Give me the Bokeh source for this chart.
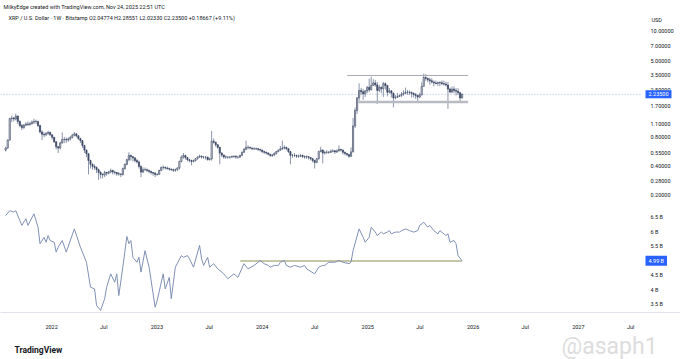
from datetime import datetime, timedelta
from bokeh.plotting import figure
from bokeh.models import Range1d, FixedTicker, CustomJSTickFormatter, Label
from bokeh.core.properties import value
from bokeh.layouts import column
from bokeh.embed import file_html
from bokeh.resources import INLINE

# ---------------- data ----------------
first_week = datetime(2021, 7, 26)
first_open = 0.59
closes = [0.62, 0.75, 1.25, 1.27, 1.24, 1.33, 1.17, 1.06, 1.01, 1.07,
          1.10, 1.09, 1.11, 1.15, 1.17, 1.17, 1.06, 0.91, 0.86, 0.85,
          0.88, 0.90, 0.85, 0.80, 0.72, 0.64, 0.62, 0.70, 0.76, 0.76,
          0.75, 0.77, 0.80, 0.84, 0.87, 0.83, 0.78, 0.74, 0.66, 0.59,
          0.54, 0.46, 0.42, 0.40, 0.39, 0.37, 0.346, 0.33, 0.326, 0.347,
          0.34, 0.35, 0.363, 0.35, 0.346, 0.335, 0.333, 0.33, 0.38, 0.42,
          0.47, 0.52, 0.505, 0.49, 0.46, 0.445, 0.40, 0.35, 0.37, 0.37,
          0.363, 0.355, 0.346, 0.34, 0.33, 0.33, 0.363, 0.39, 0.39, 0.385,
          0.38, 0.375, 0.37, 0.365, 0.37, 0.385, 0.45, 0.50, 0.52, 0.495,
          0.47, 0.46, 0.45, 0.46, 0.48, 0.50, 0.51, 0.50, 0.50, 0.50,
          0.47, 0.48, 0.73, 0.71, 0.67, 0.63, 0.55, 0.525, 0.50, 0.50,
          0.50, 0.50, 0.505, 0.51, 0.50, 0.50, 0.52, 0.56, 0.60, 0.63,
          0.63, 0.62, 0.61, 0.61, 0.61, 0.60, 0.59, 0.57, 0.56, 0.55,
          0.535, 0.52, 0.525, 0.545, 0.57, 0.59, 0.61, 0.62, 0.63, 0.61,
          0.57, 0.52, 0.52, 0.52, 0.51, 0.51, 0.52, 0.505, 0.50, 0.505,
          0.495, 0.48, 0.46, 0.44, 0.48, 0.57, 0.59, 0.55, 0.56, 0.56,
          0.56, 0.575, 0.58, 0.565, 0.58, 0.60, 0.59, 0.56, 0.545, 0.53,
          0.51, 0.565, 1.05, 1.52, 2.05, 2.45, 2.37, 2.26, 2.42, 2.64,
          2.49, 2.76, 2.93, 2.80, 2.45, 2.64, 2.55, 2.88, 2.76, 2.35,
          2.43, 2.30, 2.05, 2.08, 2.12, 2.18, 2.24, 2.30, 2.35, 2.35,
          2.32, 2.28, 2.22, 2.17, 2.09, 2.20, 2.70, 3.33, 3.26, 3.16,
          3.08, 2.99, 2.93, 2.89, 2.96, 2.94, 2.88, 2.85, 2.79, 2.53,
          2.36, 2.53, 2.45, 2.40, 2.32, 2.04774, 2.235]
highs = [0.64, 0.76, 1.28, 1.35, 1.30, 1.41, 1.35, 1.20, 1.10, 1.10,
         1.15, 1.17, 1.16, 1.20, 1.25, 1.22, 1.19, 1.08, 0.95, 0.90,
         0.91, 0.94, 0.92, 0.86, 0.81, 0.73, 0.65, 0.72, 0.90, 0.81,
         0.80, 0.80, 0.83, 0.87, 0.91, 0.88, 0.84, 0.79, 0.75, 0.67,
         0.60, 0.55, 0.47, 0.43, 0.42, 0.40, 0.38, 0.36, 0.34, 0.36,
         0.35, 0.36, 0.38, 0.37, 0.36, 0.35, 0.35, 0.34, 0.39, 0.43,
         0.48, 0.56, 0.53, 0.51, 0.50, 0.48, 0.46, 0.41, 0.39, 0.39,
         0.38, 0.37, 0.36, 0.35, 0.35, 0.34, 0.37, 0.40, 0.41, 0.40,
         0.40, 0.39, 0.38, 0.38, 0.38, 0.39, 0.46, 0.52, 0.55, 0.53,
         0.50, 0.48, 0.47, 0.47, 0.49, 0.51, 0.53, 0.52, 0.51, 0.51,
         0.50, 0.49, 0.93, 0.78, 0.72, 0.68, 0.64, 0.56, 0.53, 0.52,
         0.51, 0.51, 0.52, 0.52, 0.52, 0.51, 0.53, 0.57, 0.62, 0.74,
         0.66, 0.64, 0.63, 0.63, 0.63, 0.62, 0.61, 0.60, 0.58, 0.57,
         0.56, 0.54, 0.54, 0.56, 0.58, 0.60, 0.65, 0.74, 0.66, 0.64,
         0.62, 0.58, 0.54, 0.55, 0.53, 0.53, 0.54, 0.53, 0.52, 0.52,
         0.51, 0.50, 0.49, 0.47, 0.49, 0.58, 0.64, 0.60, 0.58, 0.59,
         0.58, 0.60, 0.60, 0.59, 0.60, 0.66, 0.61, 0.60, 0.57, 0.55,
         0.54, 0.63, 1.27, 1.63, 2.10, 2.90, 2.60, 2.55, 2.48, 2.72,
         3.25, 3.40, 3.20, 3.15, 3.00, 2.80, 2.70, 3.00, 2.97, 2.80,
         2.59, 2.45, 2.32, 2.20, 2.30, 2.23, 2.35, 2.47, 2.62, 2.48,
         2.45, 2.40, 2.35, 2.30, 2.22, 2.32, 2.98, 3.66, 3.62, 3.35,
         3.33, 3.28, 3.12, 3.10, 3.03, 3.05, 3.11, 3.10, 3.02, 3.00,
         2.62, 2.69, 2.70, 2.59, 2.58, 2.36, 2.28551]
lows = [0.57, 0.61, 0.74, 1.15, 1.17, 1.20, 1.10, 1.02, 0.95, 0.98,
        1.04, 1.05, 1.05, 1.08, 1.10, 1.10, 1.02, 0.88, 0.75, 0.80,
        0.82, 0.85, 0.83, 0.76, 0.70, 0.60, 0.55, 0.60, 0.69, 0.70,
        0.70, 0.72, 0.74, 0.78, 0.82, 0.80, 0.75, 0.70, 0.62, 0.55,
        0.50, 0.33, 0.38, 0.37, 0.37, 0.34, 0.29, 0.30, 0.30, 0.31,
        0.32, 0.33, 0.34, 0.33, 0.33, 0.32, 0.32, 0.31, 0.32, 0.37,
        0.41, 0.45, 0.46, 0.45, 0.44, 0.43, 0.38, 0.31, 0.34, 0.36,
        0.35, 0.34, 0.33, 0.32, 0.31, 0.32, 0.33, 0.36, 0.37, 0.37,
        0.37, 0.36, 0.36, 0.35, 0.35, 0.36, 0.37, 0.44, 0.48, 0.47,
        0.45, 0.44, 0.41, 0.44, 0.45, 0.47, 0.49, 0.48, 0.48, 0.47,
        0.46, 0.46, 0.46, 0.69, 0.64, 0.61, 0.42, 0.50, 0.48, 0.48,
        0.48, 0.48, 0.49, 0.49, 0.48, 0.48, 0.49, 0.51, 0.55, 0.59,
        0.60, 0.60, 0.59, 0.59, 0.59, 0.58, 0.57, 0.55, 0.54, 0.53,
        0.52, 0.50, 0.50, 0.51, 0.53, 0.56, 0.58, 0.59, 0.60, 0.59,
        0.55, 0.42, 0.49, 0.50, 0.49, 0.49, 0.50, 0.49, 0.48, 0.48,
        0.47, 0.46, 0.44, 0.38, 0.43, 0.47, 0.56, 0.43, 0.53, 0.54,
        0.54, 0.55, 0.56, 0.54, 0.55, 0.57, 0.57, 0.53, 0.52, 0.51,
        0.49, 0.50, 0.56, 1.00, 1.40, 1.92, 2.20, 1.96, 2.10, 2.30,
        2.35, 2.45, 2.75, 2.68, 1.77, 2.35, 2.30, 2.10, 2.50, 2.13,
        2.28, 2.07, 1.64, 1.98, 2.05, 2.10, 2.10, 2.16, 2.25, 2.20,
        2.20, 2.07, 2.07, 2.00, 1.91, 2.05, 2.18, 2.70, 3.08, 2.98,
        2.80, 2.90, 2.70, 2.83, 2.72, 2.70, 2.78, 2.74, 2.69, 1.58,
        2.30, 2.30, 2.30, 2.17, 2.20, 1.82, 2.0233]

# lower pane series (billions), read at candle-week indices
line_week = [0, 2, 4, 5, 7, 8, 10, 11, 14, 16,
             17, 19, 20, 21, 22, 24, 25, 26, 28, 30,
             34, 37, 40, 42, 44, 45, 47, 49, 50, 52,
             54, 55, 56, 58, 60, 61, 62, 63, 65, 66,
             67, 69, 71, 73, 74, 75, 78, 79, 81, 82,
             84, 87, 88, 90, 91, 93, 96, 97, 98, 100,
             101, 103, 105, 106, 108, 110, 113, 115, 118, 120,
             123, 125, 126, 128, 130, 131, 133, 135, 136, 138,
             139, 141, 143, 146, 148, 149, 153, 155, 157, 158,
             160, 163, 165, 167, 170, 171, 172, 175, 177, 178,
             180, 181, 183, 184, 186, 187, 189, 190, 191, 193,
             195, 196, 198, 200, 202, 204, 205, 207, 209, 210,
             212, 214, 215, 217, 218, 219, 220, 222, 223, 224, 226]
line_val = [6.55, 6.72, 6.67, 6.72, 6.38, 6.21, 6.44, 6.21, 6.61, 6.15,
            5.58, 5.80, 5.63, 5.86, 5.69, 5.63, 5.29, 5.46, 5.69, 5.29,
            6.09, 5.46, 4.94, 4.08, 4.02, 3.45, 3.28, 3.68, 4.08, 4.54,
            4.25, 4.54, 3.79, 4.77, 5.83, 5.58, 5.69, 5.11, 4.94, 5.11,
            4.60, 5.34, 4.77, 3.85, 3.39, 3.62, 4.54, 4.02, 4.42, 3.68,
            4.77, 5.17, 5.11, 5.17, 5.06, 4.77, 5.52, 5.06, 4.83, 5.11,
            4.77, 4.89, 4.71, 4.66, 4.54, 4.37, 4.54, 4.42, 4.89, 4.71,
            4.83, 4.94, 5.00, 4.89, 4.83, 4.77, 4.83, 4.83, 4.94, 5.00,
            4.83, 4.77, 4.83, 4.77, 4.83, 4.71, 4.54, 4.77, 4.83, 4.83,
            4.94, 4.94, 5.00, 4.94, 4.89, 4.94, 5.34, 6.09, 5.80, 5.63,
            5.80, 6.15, 5.98, 5.86, 5.98, 5.92, 5.98, 6.03, 5.92, 5.98,
            5.98, 6.03, 6.09, 6.03, 5.98, 6.03, 6.21, 6.32, 6.15, 6.21,
            6.03, 5.92, 6.03, 5.92, 5.86, 5.92, 5.63, 5.69, 5.58, 5.17, 4.99]

# drawn trend lines
res_dates = [datetime(2024, 10, 22), datetime(2025, 12, 15)]
res_level = 3.50
sup_dates = [datetime(2024, 11, 29), datetime(2025, 12, 15)]
sup_level = 1.86
low_dates = [datetime(2023, 10, 17), datetime(2025, 11, 24)]
low_level = 4.98

# scale labels
price_ticks = [10, 7, 5, 3.5, 2.5, 1.7, 1.1, 0.8, 0.55, 0.4, 0.28, 0.2]
price_labels = ["10.00000", "7.00000", "5.00000", "3.50000", "2.50000", "1.70000",
                "1.10000", "0.80000", "0.55000", "0.40000", "0.28000", "0.20000"]
low_ticks = [3.5, 4, 4.5, 5, 5.5, 6, 6.5]
low_labels = ["3.5 B", "4 B", "4.5 B", "5 B", "5.5 B", "6 B", "6.5 B"]
time_ticks = [datetime(2022, 1, 1), datetime(2022, 7, 1), datetime(2023, 1, 1), datetime(2023, 7, 1),
              datetime(2024, 1, 1), datetime(2024, 7, 1), datetime(2025, 1, 1), datetime(2025, 7, 1),
              datetime(2026, 1, 1), datetime(2026, 7, 1), datetime(2027, 1, 1), datetime(2027, 7, 1)]
time_labels = ["2022", "Jul", "2023", "Jul", "2024", "Jul", "2025", "Jul", "2026", "Jul", "2027", "Jul"]

header1 = "MilkyEdge created with TradingView.com, Nov 24, 2025 22:51 UTC"
header2 = "XRP / U.S. Dollar \u00b7 1W \u00b7 Bitstamp  O2.04774 H2.28551 L2.02330 C2.23500 +0.18667 (+9.11%)"
currency = "USD"
brand = "TradingView"
watermark = "@asaph1"

# ---------------- styling ----------------
FONT = "Roboto"
FS = "5.5px"
TXT = "#131722"
BODY = "#3f4a66"
WICK = "#8c95aa"
LINE = "#8090b4"
BLUE = "#2962ff"
W, H1, H2, AXB, H3 = 680, 205, 107, 21, 26

X0, X1 = datetime(2021, 7, 8), datetime(2027, 12, 21)
def x_at(px):
    return X0 + (X1 - X0) * (px / W)

EPOCH = datetime(1970, 1, 1)
def ms(d):
    return (d - EPOCH).total_seconds() * 1000.0

dates = [first_week + timedelta(weeks=i) for i in range(len(closes))]
opens = [first_open] + closes[:-1]
tops = [max(o, c) for o, c in zip(opens, closes)]
bots = [min(o, c) for o, c in zip(opens, closes)]
fills = ["white" if c >= o else BODY for o, c in zip(opens, closes)]

xr = Range1d(X0, X1)
common = dict(output_backend="svg", toolbar_location=None, min_border_left=0,
              min_border_right=0, min_border_top=0)

p1 = figure(x_axis_type="datetime", y_axis_type="log", x_range=xr,
            y_range=Range1d(0.1574, 20.95), frame_width=W, frame_height=H1,
            x_axis_location=None, y_axis_location=None, min_border_bottom=0, **common)
p2 = figure(x_axis_type="datetime", x_range=xr, y_range=Range1d(3.207, 6.897),
            frame_width=W, frame_height=H2, y_axis_location=None,
            min_border_bottom=AXB, **common)
p3 = figure(x_range=Range1d(0, W), y_range=Range1d(0, H3), frame_width=W, frame_height=H3,
            x_axis_location=None, y_axis_location=None, min_border_bottom=0, **common)

for p in (p1, p2, p3):
    p.xgrid.visible = False
    p.ygrid.visible = False
    p.outline_line_color = None
    p.background_fill_color = "white"
    p.border_fill_color = "white"

# time axis
tms = [ms(d) for d in time_ticks]
xa = p2.xaxis[0]
xa.ticker = FixedTicker(ticks=tms)
xa.formatter = CustomJSTickFormatter(args=dict(t=tms, l=time_labels),
    code="let b=0,d=1e18;for(let i=0;i<t.length;i++){const e=Math.abs(t[i]-tick);if(e<d){d=e;b=i}}return l[b];")
xa.axis_line_color = "#e0e3eb"
xa.major_tick_line_color = None
xa.minor_tick_line_color = None
xa.major_tick_out = 0
xa.major_tick_in = 0
xa.minor_tick_out = 0
xa.major_label_standoff = 11
xa.major_label_text_font = FONT
xa.major_label_text_font_size = FS
xa.major_label_text_color = TXT

txt_style = dict(text_font=value(FONT), text_font_size=value(FS), text_color=TXT,
                 text_baseline="middle", text_align="left")

# ---------------- top pane ----------------
p1.line(x=[X0, x_at(642)], y=[closes[-1], closes[-1]], line_color="#9fb3d6",
        line_width=1, line_dash="1 2")
p1.segment(x0=dates, y0=lows, x1=dates, y1=highs, line_color=WICK, line_width=1)
p1.vbar(x=dates, width=4 * 86400000, top=tops, bottom=bots,
        fill_color=fills, line_color=BODY, line_width=0.7)
p1.line(x=res_dates, y=[res_level, res_level], line_color="#a9acb6", line_width=1)
p1.line(x=sup_dates, y=[sup_level, sup_level], line_color="#b8bbc4", line_width=2.5)

# price scale
p1.text(x=[x_at(650)] * len(price_ticks), y=price_ticks, text=price_labels, **txt_style)
p1.add_layout(Label(x=x_at(645), y=closes[-1], text=f"{closes[-1]:.5f}",
                    text_font=FONT, text_font_size=FS, text_color="white",
                    text_baseline="middle", padding=(3, 2), background_fill_color=BLUE))

p1.add_layout(Label(x=3, y=H1 - 6.5, x_units="screen", y_units="screen", text=header1,
                    text_font=FONT, text_font_size=FS, text_color=TXT, text_baseline="middle"))
p1.add_layout(Label(x=8, y=H1 - 17.5, x_units="screen", y_units="screen", text=header2,
                    text_font=FONT, text_font_size=FS, text_color=TXT, text_baseline="middle"))
p1.add_layout(Label(x=651, y=H1 - 19, x_units="screen", y_units="screen", text=currency,
                    text_font=FONT, text_font_size=FS, text_color=TXT, text_baseline="middle"))

# ---------------- lower pane ----------------
line_dates = [dates[i] for i in line_week]
p2.line(x=low_dates, y=[low_level, low_level], line_color="#b3b48c", line_width=1.5)
p2.line(x=line_dates, y=line_val, line_color=LINE, line_width=1)
p2.text(x=[x_at(650)] * len(low_ticks), y=low_ticks, text=low_labels, **txt_style)
p2.add_layout(Label(x=x_at(645), y=line_val[-1], text=f"{line_val[-1]:.2f} B",
                    text_font=FONT, text_font_size=FS, text_color="white",
                    text_baseline="middle", padding=(3, 2), background_fill_color=BLUE))

# ---------------- footer ----------------
p3.add_layout(Label(x=14, y=10, x_units="screen", y_units="screen", text=brand,
                    text_font=FONT, text_font_size="8.5px", text_font_style="bold",
                    text_color=TXT, text_baseline="middle"))
p3.add_layout(Label(x=561, y=13, x_units="screen", y_units="screen", text=watermark,
                    text_font=FONT, text_font_size="23px", text_color="#dddddd",
                    text_baseline="middle"))

layout = column(p1, p2, p3, spacing=0)
open("out.html", "w").write(file_html(layout, INLINE))
